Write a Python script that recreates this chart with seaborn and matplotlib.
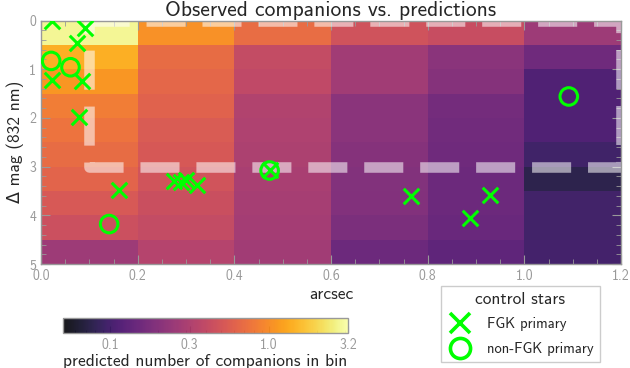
import numpy as np
import pandas as pd
import matplotlib
matplotlib.use('Agg')
import matplotlib.pyplot as plt
from matplotlib.colors import LogNorm
from matplotlib.lines import Line2D
import seaborn as sns

# -- bins of the prediction grid --
SEP_BINS = ['0.0-0.2', '0.2-0.4', '0.4-0.6', '0.6-0.8', '0.8-1.0', '1.0-1.2']
DMAG_BINS = ['0.0', '0.5', '1.0', '1.5', '2.0', '2.5', '3.0', '3.5', '4.0', '4.5']

# predicted number of companions per bin (top row = dmag 0-0.5)
PRED_SEP_00 = [2.8, 1.40, 1.10, 0.85, 0.75, 0.68, 0.62, 0.53, 0.45, 0.26]
PRED_SEP_02 = [1.05, 0.68, 0.64, 0.60, 0.55, 0.52, 0.48, 0.44, 0.41, 0.34]
PRED_SEP_04 = [0.70, 0.41, 0.39, 0.33, 0.32, 0.31, 0.30, 0.29, 0.28, 0.27]
PRED_SEP_06 = [0.47, 0.27, 0.27, 0.21, 0.21, 0.20, 0.195, 0.19, 0.18, 0.15]
PRED_SEP_08 = [0.43, 0.21, 0.20, 0.165, 0.16, 0.155, 0.15, 0.15, 0.145, 0.13]
PRED_SEP_10 = [0.26, 0.155, 0.11, 0.11, 0.11, 0.093, 0.076, 0.095, 0.095, 0.097]

# observed control stars
FGK_SEP = [0.022, 0.091, 0.074, 0.022, 0.085, 0.079, 0.161, 0.275, 0.29, 0.30,
           0.323, 0.473, 0.765, 0.887, 0.928]
FGK_DMAG = [0.02, 0.15, 0.46, 1.22, 1.25, 1.99, 3.49, 3.30, 3.31, 3.27,
            3.37, 3.06, 3.61, 4.06, 3.58]
NONFGK_SEP = [0.021, 0.061, 0.141, 0.473, 1.092]
NONFGK_DMAG = [0.83, 0.96, 4.18, 3.08, 1.56]

# dashed sensitivity box (sep, dmag)
BOX_SEP = [0.1, 0.1, 1.2, 1.2, 0.1]
BOX_DMAG = [0.0, 3.0, 3.0, 0.0, 0.0]

CBAR_TICKS = [0.1, 10 ** -0.5, 1.0, 10 ** 0.5]
CBAR_LABELS = ['0.1', '0.3', '1.0', '3.2']

sns.set_style('ticks')
plt.rcParams['font.family'] = ['cmss10', 'DejaVu Sans']
plt.rcParams['axes.unicode_minus'] = False

GRAY = '#999999'
GREEN = '#00ff00'

pred = pd.DataFrame({
    SEP_BINS[0]: PRED_SEP_00, SEP_BINS[1]: PRED_SEP_02, SEP_BINS[2]: PRED_SEP_04,
    SEP_BINS[3]: PRED_SEP_06, SEP_BINS[4]: PRED_SEP_08, SEP_BINS[5]: PRED_SEP_10,
}, index=DMAG_BINS)

fig = plt.figure(figsize=(6.3, 3.68), dpi=100)
rect = [41 / 630, 1 - 264 / 368, 580 / 630, 243.5 / 368]
ax_hm = fig.add_axes(rect)
cax = fig.add_axes([62.7 / 630, 1 - 333.3 / 368, 285.6 / 630, 15 / 368])

sns.heatmap(pred, ax=ax_hm, cmap='inferno', norm=LogNorm(vmin=10 ** -1.3, vmax=10 ** 0.5),
            cbar_ax=cax, cbar_kws={'orientation': 'horizontal'}, alpha=0.9)
ax_hm.set_axis_off()

cb = ax_hm.collections[0].colorbar
cb.outline.set_linewidth(1.0)
cb.outline.set_edgecolor(GRAY)
cb.set_ticks(CBAR_TICKS)
cb.set_ticklabels(CBAR_LABELS)
cb.minorticks_on()
cax.tick_params(which='both', direction='in', colors=GRAY, labelsize=10,
                bottom=True, top=False, labelcolor=GRAY)
cax.tick_params(which='major', length=5, width=0.8)
cax.tick_params(which='minor', length=2.5, width=0.6)
cb.set_label('predicted number of companions in bin', fontsize=12.5, labelpad=1)

# overlay axes in real data units
ax = fig.add_axes(rect)
ax.set_facecolor('none')

ax.plot(BOX_SEP, BOX_DMAG, color='white', alpha=0.55, lw=7.6,
        ls=(2.54, (3.7, 1.6)), solid_capstyle='butt', zorder=2)

sns.scatterplot(x=FGK_SEP, y=FGK_DMAG, ax=ax, marker='x', color=GREEN,
                s=125, linewidth=2.2, zorder=3)
sns.scatterplot(x=NONFGK_SEP, y=NONFGK_DMAG, ax=ax, marker='o', facecolor='none',
                edgecolor=GREEN, s=160, linewidth=2.2, zorder=3)

ax.set_xlim(0, 1.2)
ax.set_ylim(5, 0)
ax.set_xticks(np.arange(0, 1.21, 0.2))
ax.set_xticklabels([f'{v:.1f}' for v in np.arange(0, 1.21, 0.2)])
ax.set_yticks(range(6))
ax.set_xticks(np.arange(0, 1.2001, 0.05), minor=True)
ax.set_yticks(np.arange(0, 5.001, 0.2), minor=True)
ax.tick_params(which='both', direction='in', top=True, right=True,
               colors=GRAY, labelcolor=GRAY, labelsize=10)
ax.tick_params(which='major', length=6.5, width=0.8)
ax.tick_params(which='minor', length=3.5, width=0.6)
for sp in ax.spines.values():
    sp.set_color(GRAY)
    sp.set_linewidth(1.0)

ax.set_xlabel('arcsec', fontsize=12.5, labelpad=3)
ax.set_ylabel('Δ mag (832 nm)', fontsize=12.5, labelpad=4)
ax.set_title('Observed companions vs. predictions', fontsize=15.5, pad=2)

handles = [
    Line2D([], [], ls='none', marker='x', color=GREEN, ms=15, mew=2.6),
    Line2D([], [], ls='none', marker='o', mfc='none', mec=GREEN, ms=14.5, mew=2.6),
]
leg = fig.legend(handles, ['FGK primary', 'non-FGK primary'], loc='upper left',
                 bbox_to_anchor=(440.7 / 630, 1 - 286 / 368), borderaxespad=0,
                 title='control stars', fontsize=10.5, title_fontsize=12.5,
                 fancybox=False, edgecolor='#cccccc', framealpha=1,
                 handlelength=1.9, handletextpad=0.9, labelspacing=0.72,
                 borderpad=0.4)

fig.savefig('out.png', dpi=100)
